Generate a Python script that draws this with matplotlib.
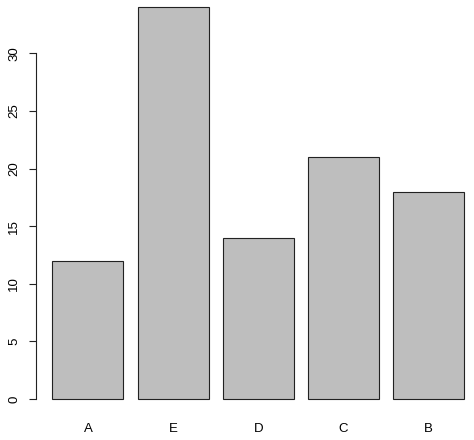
import matplotlib
matplotlib.use("Agg")
import matplotlib.pyplot as plt

# bar data, in the order drawn
categories = ["A", "E", "D", "C", "B"]
values = [12, 34, 14, 21, 18]
y_ticks = [0, 5, 10, 15, 20, 25, 30]

plt.rcParams["font.family"] = ["Liberation Sans", "DejaVu Sans"]

W, H = 474, 440
fig = plt.figure(figsize=(W / 100, H / 100), dpi=100)

# axes box placed to mimic R's plot region (partly outside the image)
left, right = 36 / W, 480.6 / W
bottom, top = (H - 414.7) / H, (H + 8.4) / H
ax = fig.add_axes([left, bottom, right - left, top - bottom])

# R barplot layout: width 1, space 0.2
xs = [0.2 + 1.2 * i + 0.5 for i in range(len(values))]
ax.bar(xs, values, width=1.0, color="#bebebe", edgecolor="#222222", linewidth=0.8)

ax.set_xlim(-0.032, 6.232)
ax.set_ylim(-1.36, 35.36)

for s in ["top", "right", "bottom"]:
    ax.spines[s].set_visible(False)
ax.spines["left"].set_bounds(0, 30)
ax.spines["left"].set_color("#222222")
ax.spines["left"].set_linewidth(0.8)

ax.set_yticks(y_ticks)
ax.set_yticklabels([str(t) for t in y_ticks], rotation=90, va="center", fontsize=9.5)
ax.tick_params(axis="y", length=5.3, width=0.8, color="#222222", pad=6)

ax.set_xticks(xs)
ax.set_xticklabels(categories, fontsize=9.5)
ax.tick_params(axis="x", length=0, pad=6)

fig.savefig("out.png", dpi=100)
